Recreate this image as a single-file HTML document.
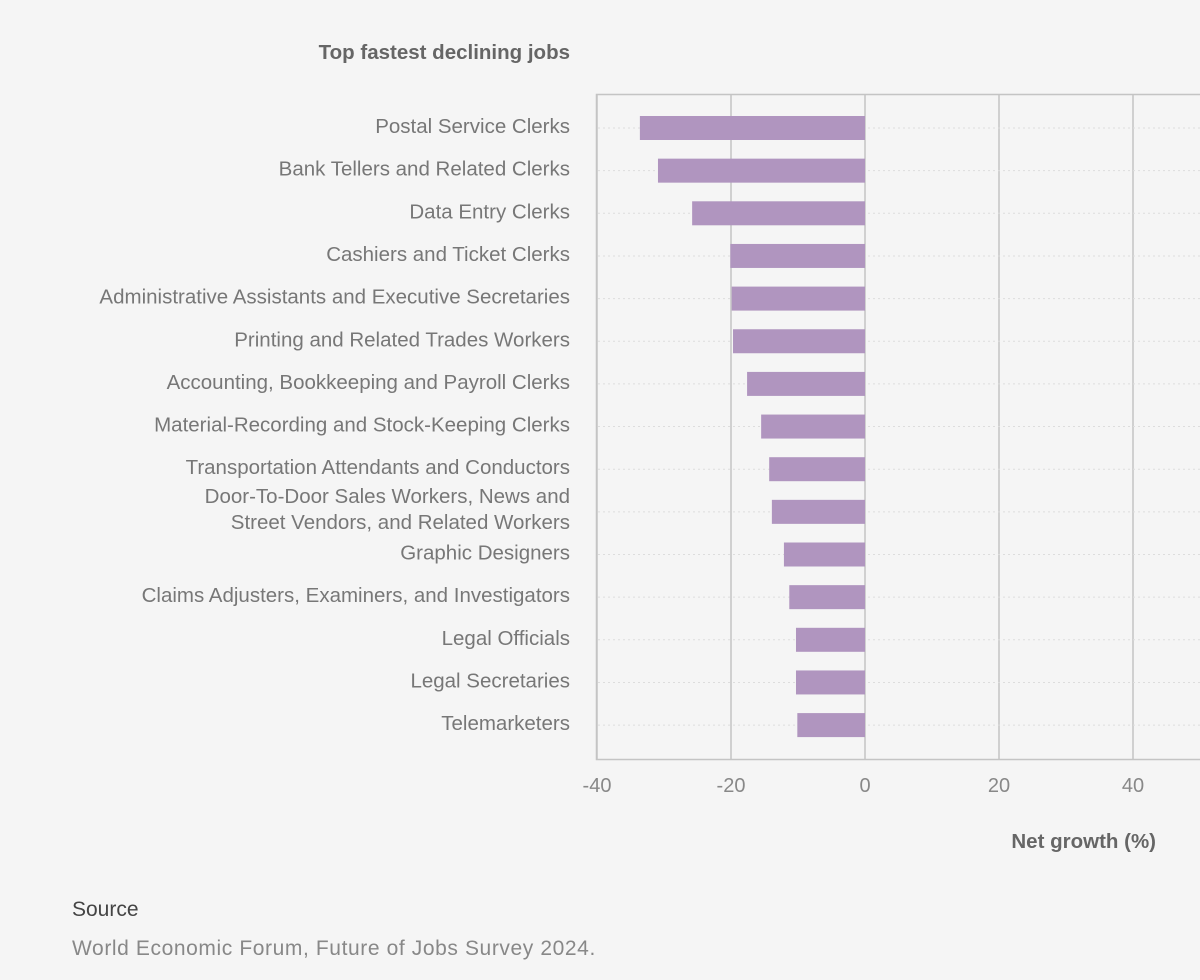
<!DOCTYPE html>
<html><head><meta charset="utf-8"><style>
body{margin:0;background:#f5f5f5;font-family:"Liberation Sans",sans-serif;}
svg text{font-family:"Liberation Sans",sans-serif;}
</style></head><body>
<svg width="1200" height="975" xmlns="http://www.w3.org/2000/svg">
<rect width="1200" height="975" fill="#f5f5f5"/>
<text x="570" y="59" text-anchor="end" font-size="20.5" font-weight="bold" fill="#666">Top fastest declining jobs</text>
<g id="grid"></g><g id="bars"></g><g id="labels"></g><g id="ticks"></g>
<text x="1156" y="848" text-anchor="end" font-size="20.5" font-weight="bold" fill="#666">Net growth (%)</text>
<text x="72" y="916" font-size="21" fill="#444">Source</text>
<text x="72" y="955" font-size="21" letter-spacing="0.6" fill="#888">World Economic Forum, Future of Jobs Survey 2024.</text>
</svg>
<script>
const categories=[["Postal Service Clerks"],["Bank Tellers and Related Clerks"],["Data Entry Clerks"],["Cashiers and Ticket Clerks"],["Administrative Assistants and Executive Secretaries"],["Printing and Related Trades Workers"],["Accounting, Bookkeeping and Payroll Clerks"],["Material-Recording and Stock-Keeping Clerks"],["Transportation Attendants and Conductors"],["Door-To-Door Sales Workers, News and","Street Vendors, and Related Workers"],["Graphic Designers"],["Claims Adjusters, Examiners, and Investigators"],["Legal Officials"],["Legal Secretaries"],["Telemarketers"]];
const values=[-33.6,-30.9,-25.8,-20.1,-19.9,-19.7,-17.6,-15.5,-14.3,-13.9,-12.1,-11.3,-10.3,-10.3,-10.1];
const ticks=[-40,-20,0,20,40];
const NS="http://www.w3.org/2000/svg";
const x=v=>865+v*6.7;
const y=i=>128+i*42.65;
function mk(tag,attrs,parent,txt){const e=document.createElementNS(NS,tag);for(const k in attrs)e.setAttribute(k,attrs[k]);if(txt!==undefined)e.textContent=txt;document.getElementById(parent).appendChild(e);return e;}
let f=mk('rect',{x:596.5,y:94.5,width:620,height:665,fill:'none',stroke:'#c4c4c4','stroke-width':1.5},'grid');


ticks.forEach(t=>{
 let l=mk('line',{x1:x(t),x2:x(t),y1:94,y2:760,stroke:'#c4c4c4','stroke-width':1.5},'grid');
 
 
 let tx=mk('text',{x:x(t),y:792,'text-anchor':'middle','font-size':20,fill:'#888'},'ticks',String(t));
 
 
});
categories.forEach((c,i)=>{
 let g=mk('line',{x1:598,x2:1200,y1:y(i),y2:y(i),stroke:'#ddd','stroke-width':1,'stroke-dasharray':'2 3'},'grid');
 
 
 const v=values[i];
 let b=mk('rect',{x:Math.min(x(v),x(0)),y:y(i)-12,width:Math.abs(x(v)-x(0)),height:24,fill:'#b095bf'},'bars');
 
 
 const n=c.length;
 c.forEach((line,j)=>{
  let t=mk('text',{x:570,y:y(i)+5+(j-(n-1)/2)*26+(n>1?-1:0),'text-anchor':'end','font-size':20.5,fill:'#777'},'labels',line);
  
  
 });
});
</script>
</body></html>
